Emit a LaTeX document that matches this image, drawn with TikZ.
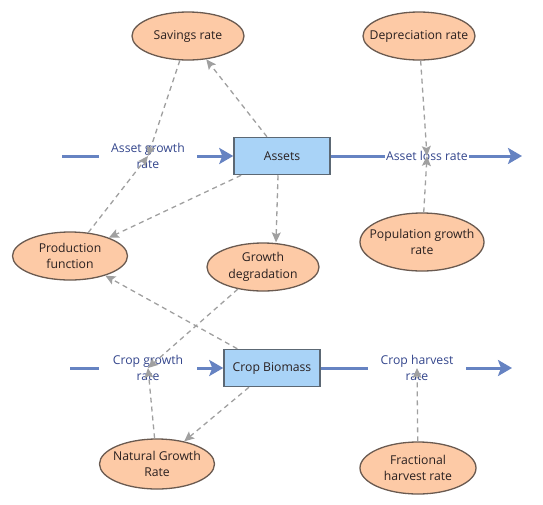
\documentclass[tikz,border=0pt]{standalone}
\usepackage{fontspec}
\setmainfont{Open Sans}
\usepackage{xcolor}
\usepackage{tikz}
\usetikzlibrary{shapes.geometric, arrows.meta}
\usetikzlibrary{positioning}

\definecolor{auxfill}{HTML}{FDCAA6}
\definecolor{auxborder}{HTML}{6A5A50}
\definecolor{auxtext}{HTML}{2A2020}
\definecolor{stockfill}{HTML}{A9D3F7}
\definecolor{stockborder}{HTML}{5C6874}
\definecolor{flowblue}{HTML}{6683C2}
\definecolor{valvetext}{HTML}{34468C}
\definecolor{linkgray}{HTML}{A0A0A0}

\begin{document}
\begin{tikzpicture}[x=1pt, y=-1pt,
      font=\fontsize{12.2}{16.5}\selectfont,
      aux/.style = {ellipse, draw=auxborder, line width=1.3pt,
        fill=auxfill, text=auxtext, align=center,
        inner xsep=-14pt, inner ysep=-8pt,
        minimum width=112pt, minimum height=48pt},
      stock/.style = {rectangle, draw=stockborder, line width=1.5pt,
        fill=stockfill, text=auxtext, minimum width=96pt, minimum height=37pt},
      valve/.style = {text=valvetext, align=center, inner sep=0pt,
        minimum width=98pt},
      flow/.style = {draw=flowblue, line width=3pt},
      flowhead/.style = {-{Stealth[length=14pt, width=16pt, inset=3pt]}},
      link/.style = {draw=linkgray, line width=1.3pt,
        dash pattern=on 5pt off 4pt,
        -{Stealth[length=10pt, width=9pt, inset=2pt]}}]
      \useasboundingbox (0,0) rectangle (543,504);

      % stocks and flows
      \node[stock] (assets) at (282,156) {Assets};
      \node[stock] (crop) at (272,368) {Crop Biomass};
      \node[valve] (assetvalve) at (148,156) {Asset growth\\rate};
      \node[valve, minimum width=0pt, inner xsep=1pt] (lossvalve) at (427,156) {Asset loss rate};
      \node[valve] (cropvalve) at (148,368) {Crop growth\\rate};
      \node[valve] (harvestvalve) at (417,368) {Crop harvest\\rate};
      \coordinate (assetsrc) at (62,156);
      \coordinate (assetsink) at (522,156);
      \coordinate (cropsrc) at (70,368);
      \coordinate (cropsink) at (512,368);

      \draw[flow] (assetsrc) -- (assetvalve);
      \draw[flow, flowhead] (assetvalve) -- (assets);
      \draw[flow] (assets) -- (lossvalve);
      \draw[flow, flowhead] (lossvalve) -- (assetsink);
      \draw[flow] (cropsrc) -- (cropvalve);
      \draw[flow, flowhead] (cropvalve) -- (crop);
      \draw[flow] (crop) -- (harvestvalve);
      \draw[flow, flowhead] (harvestvalve) -- (cropsink);

      % auxiliaries
      \node[aux] (savings) at (188,36) {Savings rate};
      \node[aux] (deprec) at (419,36) {Depreciation rate};
      \node[aux, minimum width=115pt] (prod) at (70,256) {Production\\function};
      \node[aux] (degrad) at (263,267) {Growth\\degradation};
      \node[aux, minimum width=124pt, minimum height=58pt] (popul) at (422,242) {Population growth\\rate};
      \node[aux, minimum width=115pt, minimum height=50pt] (natural) at (157,464) {Natural Growth\\Rate};
      \node[aux, minimum width=116pt, minimum height=52pt] (fract) at (418,468) {Fractional\\harvest rate};

      % links
      \draw[link] (assets) -- (savings);
      \draw[link] (savings) -- (assetvalve.center);
      \draw[link] (prod) -- (assetvalve.center);
      \draw[link] (assets) -- (prod);
      \draw[link] ([xshift=-4pt]assets.south) -- ([xshift=13pt]degrad.north);
      \draw[link] (deprec) -- (lossvalve.center);
      \draw[link] (popul) -- (lossvalve.center);
      \draw[link] (crop) -- (prod);
      \draw[link] (degrad) -- (cropvalve.center);
      \draw[link] (natural) -- (cropvalve.center);
      \draw[link] (crop) -- (natural);
      \draw[link] (fract) -- (harvestvalve.center);
    \end{tikzpicture}
\end{document}
